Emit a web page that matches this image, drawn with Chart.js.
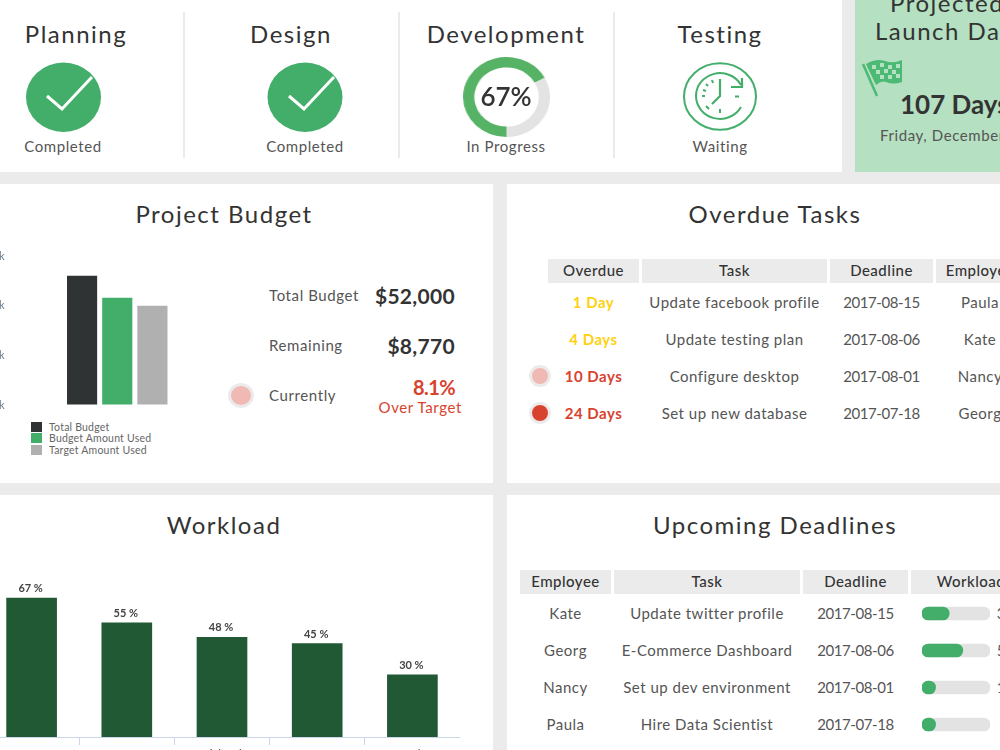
<!DOCTYPE html>
<html>
<head>
<meta charset="utf-8">
<script src="https://cdn.jsdelivr.net/npm/chart.js@4"></script>
<style>
html, body { margin: 0; width: 1000px; height: 750px; overflow: hidden; background: #ebebeb; }
body { position: relative; font-family: Lato, sans-serif; color: #555; }
.panel { position: absolute; background: #fff; }
.t { position: absolute; white-space: nowrap; line-height: 1; transform: translate(0, -50%); }
.c { transform: translate(-50%, -50%); }
.r { transform: translate(-100%, -50%); }
.title { font-size: 24px; letter-spacing: 1.5px; color: #333; }
.sub { font-size: 15px; letter-spacing: .6px; color: #555; }
.money { font-size: 21px; font-weight: 700; color: #333; letter-spacing: .3px; }
.divider { position: absolute; top: 12px; height: 146px; width: 2px; background: #ebebeb; }
.dot { position: absolute; border-radius: 50%; border: 3px solid #ebebeb; box-sizing: border-box; }
canvas { position: absolute; }
svg { position: absolute; left: 0; top: 0; }
table { position: absolute; border-collapse: separate; border-spacing: 3px 0; table-layout: fixed; font-size: 15px; letter-spacing: .5px; }
th { height: 22px; padding: 0 0 2px; background: #ebebeb; color: #333; font-weight: 500; white-space: nowrap; overflow: hidden; }
td { height: 37px; padding: 0; text-align: center; white-space: nowrap; }
.date { letter-spacing: -.4px; }
.legend { position: absolute; left: 31px; top: 421.5px; font-size: 10.5px; line-height: 11.8px; color: #666; letter-spacing: .2px; }
.legend i { display: inline-block; width: 11px; height: 10px; margin-right: 7px; vertical-align: -1px; }
</style>
</head>
<body>
<div class="panel" style="left:0;top:0;width:842px;height:172px"></div>
<div class="panel" style="left:855px;top:0;width:145px;height:172px;background:#b5e0c1"></div>
<div class="panel" style="left:0;top:184px;width:493px;height:299px"></div>
<div class="panel" style="left:507px;top:184px;width:493px;height:299px"></div>
<div class="panel" style="left:0;top:495px;width:493px;height:255px"></div>
<div class="panel" style="left:507px;top:495px;width:493px;height:255px"></div>

<div class="divider" style="left:183px"></div>
<div class="divider" style="left:398px"></div>
<div class="divider" style="left:613px"></div>

<div class="t c title" style="left:76px;top:34px">Planning</div>
<div class="t c title" style="left:291px;top:34px">Design</div>
<div class="t c title" style="left:506px;top:34px">Development</div>
<div class="t c title" style="left:720px;top:34px">Testing</div>
<div class="t c sub" style="left:63px;top:146px">Completed</div>
<div class="t c sub" style="left:305px;top:146px">Completed</div>
<div class="t c sub" style="left:506px;top:146px">In Progress</div>
<div class="t c sub" style="left:720px;top:146px">Waiting</div>

<svg width="1000" height="750" fill="none">
  <ellipse cx="63.5" cy="97.3" rx="37.5" ry="34.7" fill="#43ae6a"/>
  <path d="M47 96 L62 109 L92 77" stroke="#fff" stroke-width="3"/>
  <ellipse cx="305" cy="97.3" rx="37.5" ry="34.7" fill="#43ae6a"/>
  <path d="M289 96 L304 109 L334 77" stroke="#fff" stroke-width="3"/>
  <!-- clock icon -->
  <g stroke="#43ae6a">
    <ellipse cx="720" cy="96.5" rx="36" ry="33.3" stroke-width="2"/>
    <path d="M741 85 A24 23 0 0 0 696 96 A24 23 0 0 0 741 107" stroke-width="2"/>
    <path d="M731 87 H742 V78" stroke-width="2.2"/>
    <path d="M720 79 V96 L712 104" stroke-width="2.2"/>
    <path d="M735 96.5 H739 M720 109 V113 M706 106 L709 109 M702 96 H705 M703 90 L706 91 M706 84 L708 86 M712 80 L713 83" stroke-width="2"/>
  </g>
  <!-- flag icon -->
  <path d="M863 64 L877 96" stroke="#4cba74" stroke-width="2.5"/>
  <path d="M866 64 Q876 58 885 61 Q893 64 902 60 V82 Q893 85 886 82 Q881 80 876 85 Z" fill="#4cba74"/>
  <path d="M872 65 h4 v4 h-4z M880 63 h4 v4 h-4z M888 65 h4 v4 h-4z M896 64 h4 v4 h-4z M876 70 h4 v4 h-4z M884 69 h4 v4 h-4z M892 70 h4 v4 h-4z M880 75 h4 v4 h-4z M888 75 h4 v4 h-4z M896 74 h4 v4 h-4z" fill="#b5e0c1"/>
</svg>

<div style="position:absolute;left:463px;top:57px;width:80px;height:80px;transform-origin:0 0;transform:scaleX(1.0875)">
  <canvas id="devChart" width="80" height="80"></canvas>
</div>
<div class="t c" style="left:506px;top:96px;font-size:26px;font-weight:600;color:#333">67%</div>

<div class="t title" style="left:890px;top:3px">Projected</div>
<div class="t title" style="left:875px;top:31px">Launch Date</div>
<div class="t" style="left:900px;top:104px;font-size:26px;font-weight:700;color:#333">107 Days</div>
<div class="t sub" style="left:880px;top:135px">Friday, December 15</div>

<div class="t c title" style="left:224px;top:214px">Project Budget</div>
<div class="t c title" style="left:775px;top:214px">Overdue Tasks</div>
<div class="t c title" style="left:224px;top:525px">Workload</div>
<div class="t c title" style="left:775px;top:525px">Upcoming Deadlines</div>

<canvas id="budgetChart" width="200" height="167" style="left:-30px;top:246px"></canvas>
<div class="legend" id="budgetLegend"></div>

<div class="t sub" style="left:269px;top:295px">Total Budget</div>
<div class="t r money" style="left:455px;top:295px">$52,000</div>
<div class="t sub" style="left:269px;top:345px">Remaining</div>
<div class="t r money" style="left:455px;top:345px">$8,770</div>
<div class="t sub" style="left:269px;top:395px">Currently</div>
<div class="t r money" style="left:455px;top:387px;color:#d8432f;font-size:20px;letter-spacing:-.6px">8.1%</div>
<div class="t r sub" style="left:462px;top:407px;color:#d8432f">Over Target</div>
<div class="dot" style="left:228px;top:383px;width:26px;height:25px;background:#f0b9b3"></div>

<table id="overdueTable" style="left:545px;top:259px;width:482px"></table>
<div class="dot" style="left:529px;top:365px;width:22px;height:22px;background:#f0b9b3"></div>
<div class="dot" style="left:529px;top:402px;width:22px;height:22px;background:#d8432f"></div>

<canvas id="workloadChart" width="476" height="196" style="left:-16px;top:571px"></canvas>

<table id="upcomingTable" style="left:517px;top:570px;width:517px"></table>
<canvas id="progressChart" width="68" height="148" style="left:922px;top:594.5px"></canvas>

<script>
// top status
const devLabels = ["Done", "Remaining"];
const devValues = [67, 33];

// project budget
const budgetCategories = ["Budget"];
const budgetNames = ["Total Budget", "Budget Amount Used", "Target Amount Used"];
const budgetValues = [52000, 43230, 40000];
const budgetColors = ["#2f3333", "#43ae6a", "#b0b0b0"];
const budgetTicks = [0, 20000, 40000, 60000];

// overdue tasks
const overdueHead = ["Overdue", "Task", "Deadline", "Employee"];
const overdueDays = ["1 Day", "4 Days", "10 Days", "24 Days"];
const overdueTasks = ["Update facebook profile", "Update testing plan", "Configure desktop", "Set up new database"];
const overdueDates = ["2017-08-15", "2017-08-06", "2017-08-01", "2017-07-18"];
const overdueNames = ["Paula", "Kate", "Nancy", "Georg"];

// workload
const workloadNames = ["Georg", "Nancy", "Richard", "Kate", "Paula"];
const workloadValues = [67, 55, 48, 45, 30];

// upcoming deadlines
const upcomingHead = ["Employee", "Task", "Deadline", "Workload"];
const upcomingNames = ["Kate", "Georg", "Nancy", "Paula"];
const upcomingTasks = ["Update twitter profile", "E-Commerce Dashboard", "Set up dev environment", "Hire Data Scientist"];
const upcomingDates = ["2017-08-15", "2017-08-06", "2017-08-01", "2017-07-18"];
const upcomingBars = [40, 60, 20, 20];
const upcomingTrack = [100, 100, 100, 100];
const upcomingPct = ["38 %", "58 %", "15 %", "8 %"];

Chart.defaults.font.family = "Lato, sans-serif";
Chart.defaults.animation = false;
Chart.defaults.responsive = false;
Chart.defaults.plugins.legend.display = false;
Chart.defaults.plugins.tooltip.enabled = false;

function fillTable(id, widths, head, cols) {
  const rows = head.map(h => "<th>" + h + "</th>").join("");
  let html = "<colgroup>" + widths.map(w => '<col style="width:' + w + 'px">').join("") + "</colgroup><tr>" + rows + "</tr>";
  cols[0].forEach((_, i) => {
    html += "<tr>" + cols.map(c => "<td>" + c[i] + "</td>").join("") + "</tr>";
  });
  document.getElementById(id).innerHTML = html;
}

const dateCell = d => '<span class="date">' + d + "</span>";

const overdueCells = overdueDays.map(d =>
  '<b style="font-weight:700;color:' + (parseInt(d) < 10 ? "#ffd10f" : "#d8432f") + '">' + d + "</b>");
fillTable("overdueTable", [91, 185, 103, 88], overdueHead, [overdueCells, overdueTasks, overdueDates.map(dateCell), overdueNames]);

// the percent sits right of the track, past the page edge for the most part
const pctCells = upcomingPct.map(p => '<span style="position:relative;left:43.5px">' + p + "</span>");
fillTable("upcomingTable", [91, 186, 105, 120], upcomingHead, [upcomingNames, upcomingTasks, upcomingDates.map(dateCell), pctCells]);

new Chart(document.getElementById("devChart"), {
  type: "doughnut",
  data: {
    labels: devLabels,
    datasets: [{ data: devValues, backgroundColor: ["#56b365", "#e3e3e3"], borderWidth: 0 }]
  },
  options: { rotation: 180, cutout: "74%" }
});

new Chart(document.getElementById("budgetChart"), {
  type: "bar",
  data: {
    labels: budgetCategories,
    datasets: budgetNames.map((n, i) => ({
      label: n,
      data: [budgetValues[i]],
      backgroundColor: budgetColors[i]
    }))
  },
  options: {
    layout: { padding: { top: 10, bottom: 8 } },
    datasets: { bar: { categoryPercentage: 1, barPercentage: 0.857 } },
    scales: {
      x: { display: false },
      y: {
        min: 0,
        max: 60000,
        afterBuildTicks(axis) { axis.ticks = budgetTicks.map(v => ({ value: v })); },
        afterFit(axis) { axis.width = 94.5; },
        // long invisible tick marks keep the labels away from the bars
        grid: { drawOnChartArea: false, tickLength: 60, tickColor: "transparent" },
        border: { display: false },
        ticks: {
          padding: 0,
          color: "#6a7a8a",
          font: { size: 11 },
          callback: v => v / 1000 + "k"
        }
      }
    }
  }
});

document.getElementById("budgetLegend").innerHTML = budgetNames.map((n, i) =>
  '<div><i style="background:' + budgetColors[i] + '"></i>' + n + "</div>").join("");

// value labels above the bars
const barValueLabels = {
  id: "barValueLabels",
  afterDatasetsDraw(chart) {
    const ctx = chart.ctx;
    ctx.save();
    ctx.font = "700 11px Lato, sans-serif";
    ctx.fillStyle = "#444";
    ctx.textAlign = "center";
    ctx.textBaseline = "bottom";
    chart.getDatasetMeta(0).data.forEach((bar, i) => {
      ctx.fillText(workloadValues[i] + " %", bar.x - 1, bar.y - 4);
    });
    ctx.restore();
  }
};

new Chart(document.getElementById("workloadChart"), {
  type: "bar",
  data: {
    labels: workloadNames,
    datasets: [{ data: workloadValues, backgroundColor: "#215934", barThickness: 50 }]
  },
  options: {
    scales: {
      y: { display: false, min: 0, max: 80 },
      x: {
        afterFit(axis) { axis.height = 30; },
        border: { color: "#ccd6eb" },
        grid: { drawOnChartArea: false, color: "#ccd6eb", tickLength: 8 },
        ticks: { padding: 2, color: "#555", font: { size: 12 }, maxRotation: 0, autoSkip: false }
      }
    }
  },
  plugins: [barValueLabels]
});

new Chart(document.getElementById("progressChart"), {
  type: "bar",
  data: {
    labels: upcomingNames,
    datasets: [
      { data: upcomingBars, backgroundColor: "#43ae6a" },
      { data: upcomingTrack, backgroundColor: "#e3e3e3" }
    ]
  },
  options: {
    indexAxis: "y",
    datasets: { bar: { grouped: false, barThickness: 13, borderRadius: 7, borderSkipped: false } },
    scales: {
      x: { display: false, min: 0, max: 100 },
      y: { display: false }
    }
  }
});
</script>
</body>
</html>
